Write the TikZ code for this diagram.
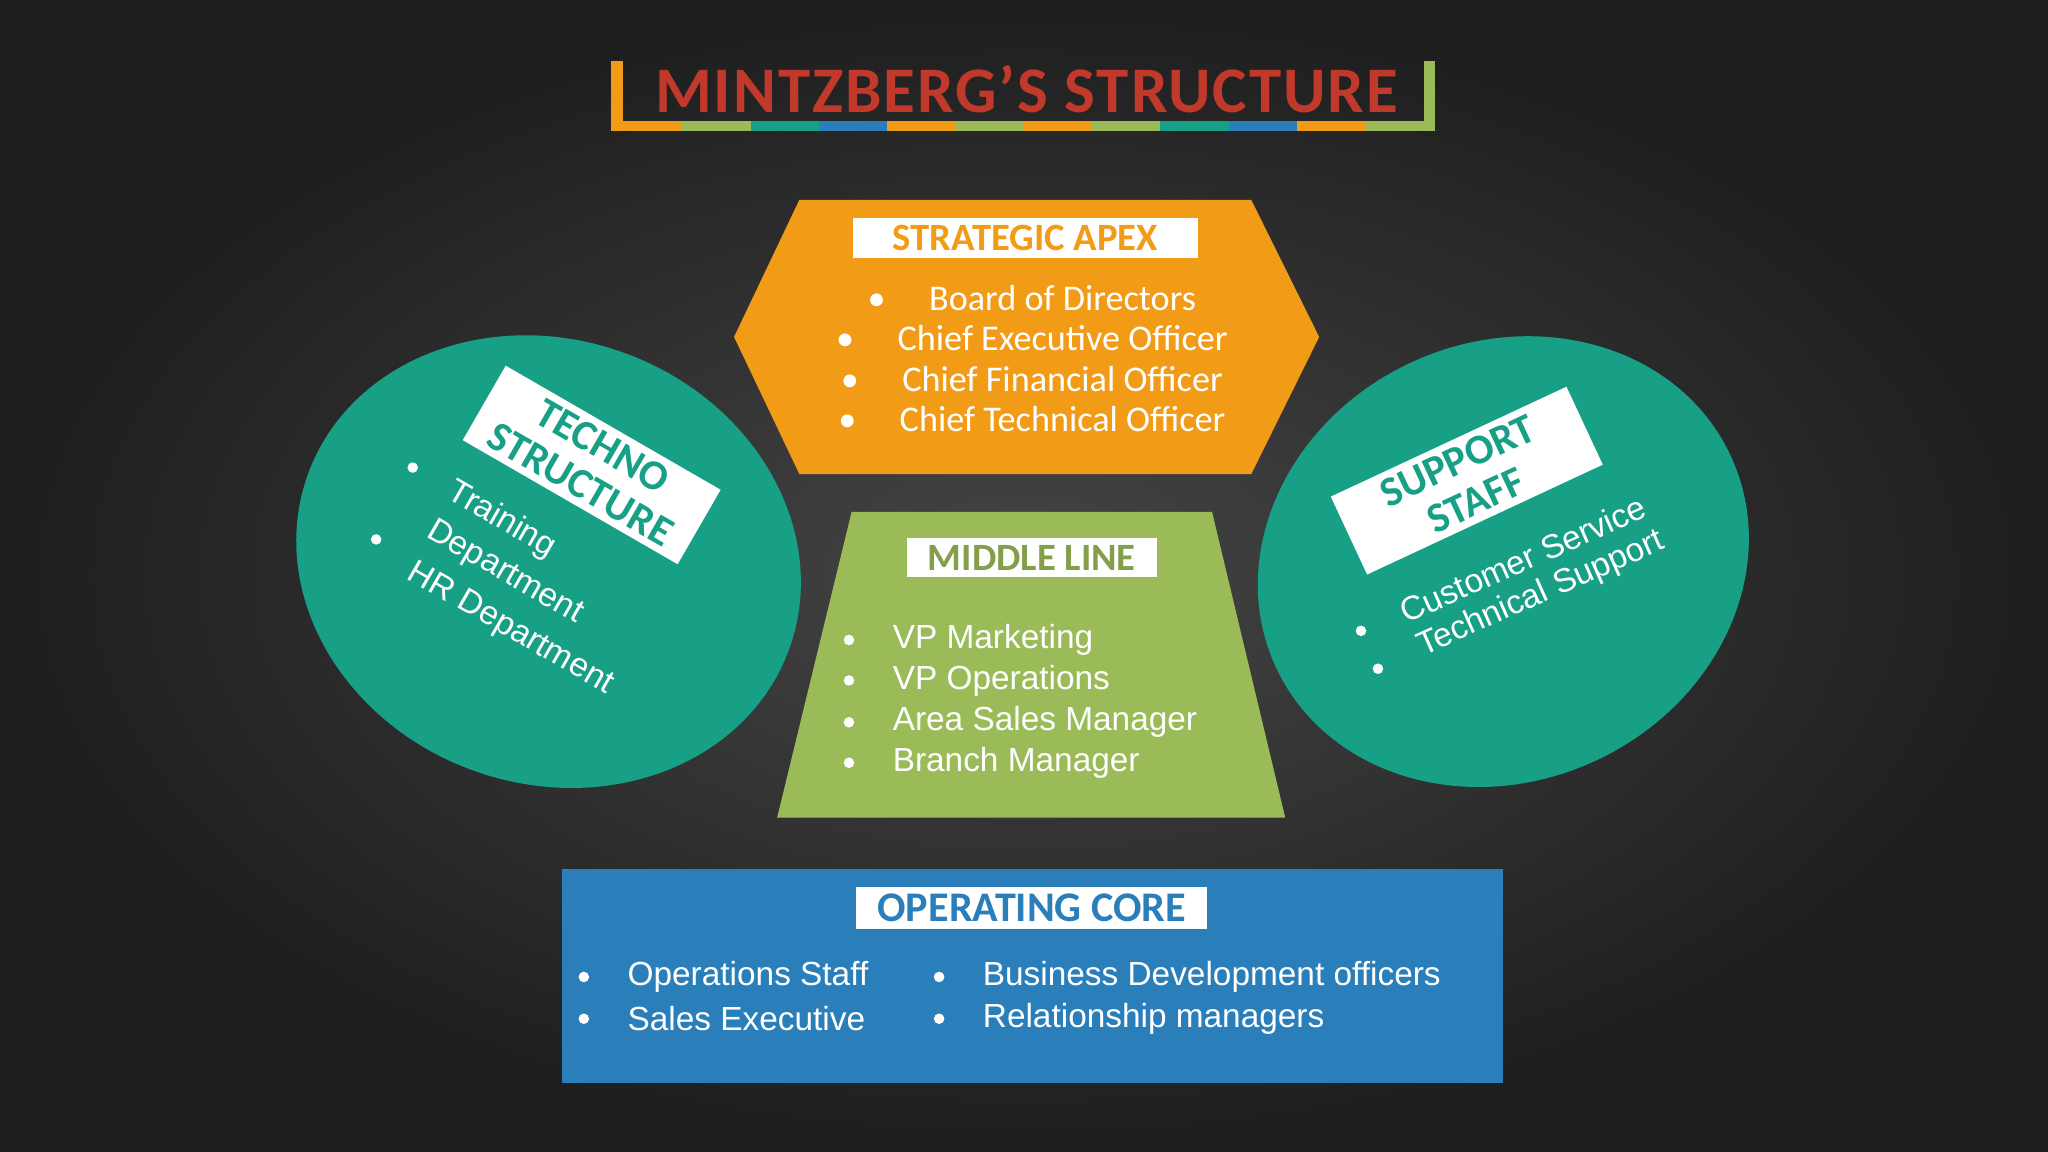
\documentclass[tikz,border=0pt]{standalone}
\usepackage{fontspec}
\setmainfont{Carlito}
\newfontfamily\arialf{Liberation Sans}
\definecolor{bgin}{HTML}{454545}
\definecolor{bgout}{HTML}{1E1E1E}
\definecolor{oran}{HTML}{F29B16}
\definecolor{gren}{HTML}{9BBB59}
\definecolor{teal}{HTML}{17A085}
\definecolor{blu}{HTML}{2A7FBA}
\definecolor{titred}{HTML}{C0392B}
\tikzset{
 lbl/.style={fill=white,inner xsep=6pt,inner ysep=2pt,font=\fontsize{11}{12}\selectfont\bfseries},
 bl/.style={text=white,font=\fontsize{10.3}{11.5}\selectfont},
 al/.style={text=white,font=\arialf\fontsize{9.5}{11}\selectfont,anchor=west,inner sep=0pt},
 dot/.style={circle,fill=white,inner sep=0pt,minimum size=3pt}
}
\begin{document}
\begin{tikzpicture}[x=0.01306cm,y=0.01306cm]
\shade[inner color=bgin,outer color=bgout] (0,0) rectangle (1568,882);
\useasboundingbox (0,0) rectangle (1568,882);
% title
\node (title) at (786,814) {\fontsize{18.5}{21}\selectfont\bfseries\color{titred}\addfontfeature{LetterSpace=3}MINTZBERG’S STRUCTURE};
\fill[oran] (468,782) rectangle (477,835);
\fill[gren] (1090,782) rectangle (1099,835);
\foreach \i/\c in {0/oran,1/gren,2/teal,3/blu,4/oran,5/gren,6/oran,7/gren,8/teal,9/blu,10/oran,11/gren}
  \fill[\c] ({470+\i*52.3},782) rectangle ({470+(\i+1)*52.3},789);
% strategic apex
\fill[oran] (612,729) -- (958,729) -- (1010,624) -- (958,519) -- (612,519) -- (562,624) -- cycle;
\node[lbl,text=oran,minimum width=3.45cm] (apex) at (785,700) {STRATEGIC APEX};
\node[bl] (a1) at (790,654) {\textbullet\hspace{1.2em}Board of Directors};
\node[bl] (a2) at (790,623) {\textbullet\hspace{1.2em}Chief Executive Officer};
\node[bl] (a3) at (790,592) {\textbullet\hspace{1.2em}Chief Financial Officer};
\node[bl] (a4) at (790,561) {\textbullet\hspace{1.2em}Chief Technical Officer};
% middle line
\fill[gren] (652,490) -- (928,490) -- (984,256) -- (595,256) -- cycle;
\node[lbl,text=gren!85!black] (mid) at (790,455) {MIDDLE LINE};
\foreach \y/\t in {392/VP Marketing,361/VP Operations,329/Area Sales Manager,298/Branch Manager}{
  \node[dot] at (650,\y) {};
  \node[al] at (683,\y) {\t};
}
% operating core
\fill[blu] (430,53) rectangle (1151,217);
\node[lbl,text=blu,font=\fontsize{12}{13}\selectfont\bfseries] (core) at (790,187) {OPERATING CORE};
\foreach \y/\t/\u in {134/Operations Staff/Business Development officers,102/Sales Executive/Relationship managers}{
  \node[dot] at (447,\y) {};
  \node[al] at (480,\y) {\t};
  \node[dot] at (719,\y) {};
  \node[al] at (752,\y) {\u};
}
% techno structure
\fill[teal,rotate around={-20:(420,452)}] (420,452) ellipse [x radius=196,y radius=170];
\node[lbl,rotate=-30,text=teal,align=center,minimum width=2.4cm,font=\fontsize{12}{12.5}\selectfont\bfseries] (techno) at (453,526) {TECHNO\\STRUCTURE};
\node[dot] at (316,524) {};
\node[dot] at (288,469) {};
\node[al,rotate=-30] (t1) at (344,507) {Training};
\node[al,rotate=-30] (t2) at (328,477) {Department};
\node[al,rotate=-30] (t3) at (313,445) {HR Department};
% support staff
\fill[teal,rotate around={25:(1151,452)}] (1151,452) ellipse [x radius=192,y radius=168];
\node[lbl,rotate=25,text=teal,align=center,minimum width=2.6cm,font=\fontsize{12}{12.5}\selectfont\bfseries] (support) at (1123,514) {SUPPORT\\STAFF};
\node[dot] at (1042,399) {};
\node[dot] at (1055,370) {};
\node[al,rotate=24,anchor=center] (s1) at (1166,454) {Customer Service};
\node[al,rotate=24,anchor=center] (s2) at (1180,427) {Technical Support};
\end{tikzpicture}
\end{document}
